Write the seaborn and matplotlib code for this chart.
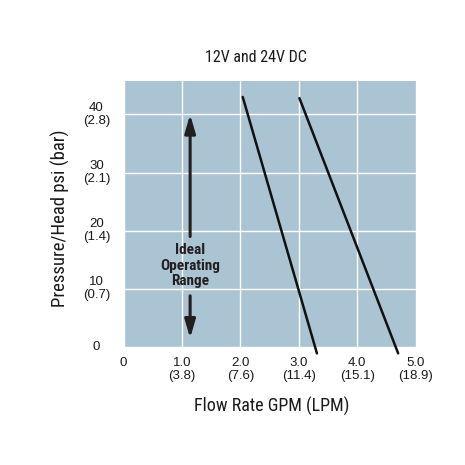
import matplotlib
matplotlib.use("Agg")
import matplotlib.pyplot as plt
from matplotlib import font_manager
import seaborn as sns
import pandas as pd

# ---- data ----
series_names = ["Curve A", "Curve B"]
curve_a_flow = [2.04, 3.31]
curve_a_psi = [43.0, -1.1]
curve_b_flow = [3.01, 4.70]
curve_b_psi = [42.8, -1.1]

x_ticks = [0, 1, 2, 3, 4, 5]
x_tick_labels = ["0", "1.0\n(3.8)", "2.0\n(7.6)", "3.0\n(11.4)", "4.0\n(15.1)", "5.0\n(18.9)"]
y_ticks = [0, 10, 20, 30, 40]
y_tick_labels = ["0", "10\n(0.7)", "20\n(1.4)", "30\n(2.1)", "40\n(2.8)"]

range_x = 1.14
range_top = [19.0, 40.0]
range_bottom = [8.8, 1.5]

title = "12V and 24V DC"
xlabel = "Flow Rate GPM (LPM)"
ylabel = "Pressure/Head psi (bar)"
range_label = "Ideal\nOperating\nRange"

df = pd.DataFrame({
    "flow": curve_a_flow + curve_b_flow,
    "psi": curve_a_psi + curve_b_psi,
    "series": [series_names[0]] * len(curve_a_flow) + [series_names[1]] * len(curve_b_flow),
})

# ---- fonts ----
sns.set_theme(style="white")
avail = {f.name for f in font_manager.fontManager.ttflist}
cond = None
for cand in ["Roboto Condensed", "Liberation Sans Narrow", "Open Sans Condensed", "DejaVu Sans Condensed"]:
    if cand in avail:
        cond = cand
        break
if cond is None:
    cond = "Roboto"
plain = "Liberation Sans" if "Liberation Sans" in avail else "DejaVu Sans"
plt.rcParams["font.family"] = [plain, "DejaVu Sans"]

bg = "#abc4d3"
ink = "#1a1a1a"

fig = plt.figure(figsize=(4.65, 4.65), dpi=100)
ax = fig.add_axes([0.2656, 0.2538, 0.6284, 0.5727])
ax.set_facecolor(bg)

sns.lineplot(data=df, x="flow", y="psi", hue="series", palette=["#111111", "#111111"],
             legend=False, ax=ax, lw=1.8, clip_on=False, sort=False, estimator=None)

ax.set_xlim(0, 5)
ax.set_ylim(0, 45.8)
ax.set_xticks(x_ticks)
ax.set_xticklabels(x_tick_labels, fontsize=9.5, color=ink, linespacing=1.12)
ax.set_yticks(y_ticks)
ax.set_yticklabels(y_tick_labels, fontsize=9.5, color=ink, linespacing=1.12)
for t in ax.get_yticklabels():
    t.set_ha("center")
    t.set_va("center")
    t.set_multialignment("center")
for t in ax.get_xticklabels():
    t.set_multialignment("center")
ax.tick_params(axis="x", length=0, pad=7.0)
ax.tick_params(axis="y", length=0, pad=19.4)
ax.grid(True, color="white", lw=1.0)
for s in ax.spines.values():
    s.set_visible(False)

# ideal operating range arrows
arrow_kw = dict(arrowstyle="-|>,head_length=1.1,head_width=0.32", color="#231f20",
                lw=2.2, mutation_scale=10, shrinkA=0, shrinkB=0)
ax.annotate("", xy=(range_x, range_top[1]), xytext=(range_x, range_top[0]), arrowprops=arrow_kw)
ax.annotate("", xy=(range_x, range_bottom[1]), xytext=(range_x, range_bottom[0]), arrowprops=arrow_kw)
ax.text(range_x, 14.0, range_label, ha="center", va="center", fontsize=11, fontweight="bold",
        family=[cond, "DejaVu Sans"], color="#231f20", linespacing=1.1)

ax.set_xlabel(xlabel, fontsize=13, family=[cond, "DejaVu Sans"], color=ink)
ax.xaxis.set_label_coords(0.507, -0.2216)
ax.xaxis.label.set_va("center")
ax.set_ylabel(ylabel, fontsize=13.5, family=[cond, "DejaVu Sans"], color=ink)
ax.yaxis.set_label_coords(-0.2173, 0.4825)
ax.yaxis.label.set_va("center")

fig.text(256 / 465, 1 - 57.8 / 465, title, ha="center", va="center", fontsize=11.5,
         family=[cond, "DejaVu Sans"], color=ink)

fig.savefig("out.png", dpi=100, facecolor="white")
